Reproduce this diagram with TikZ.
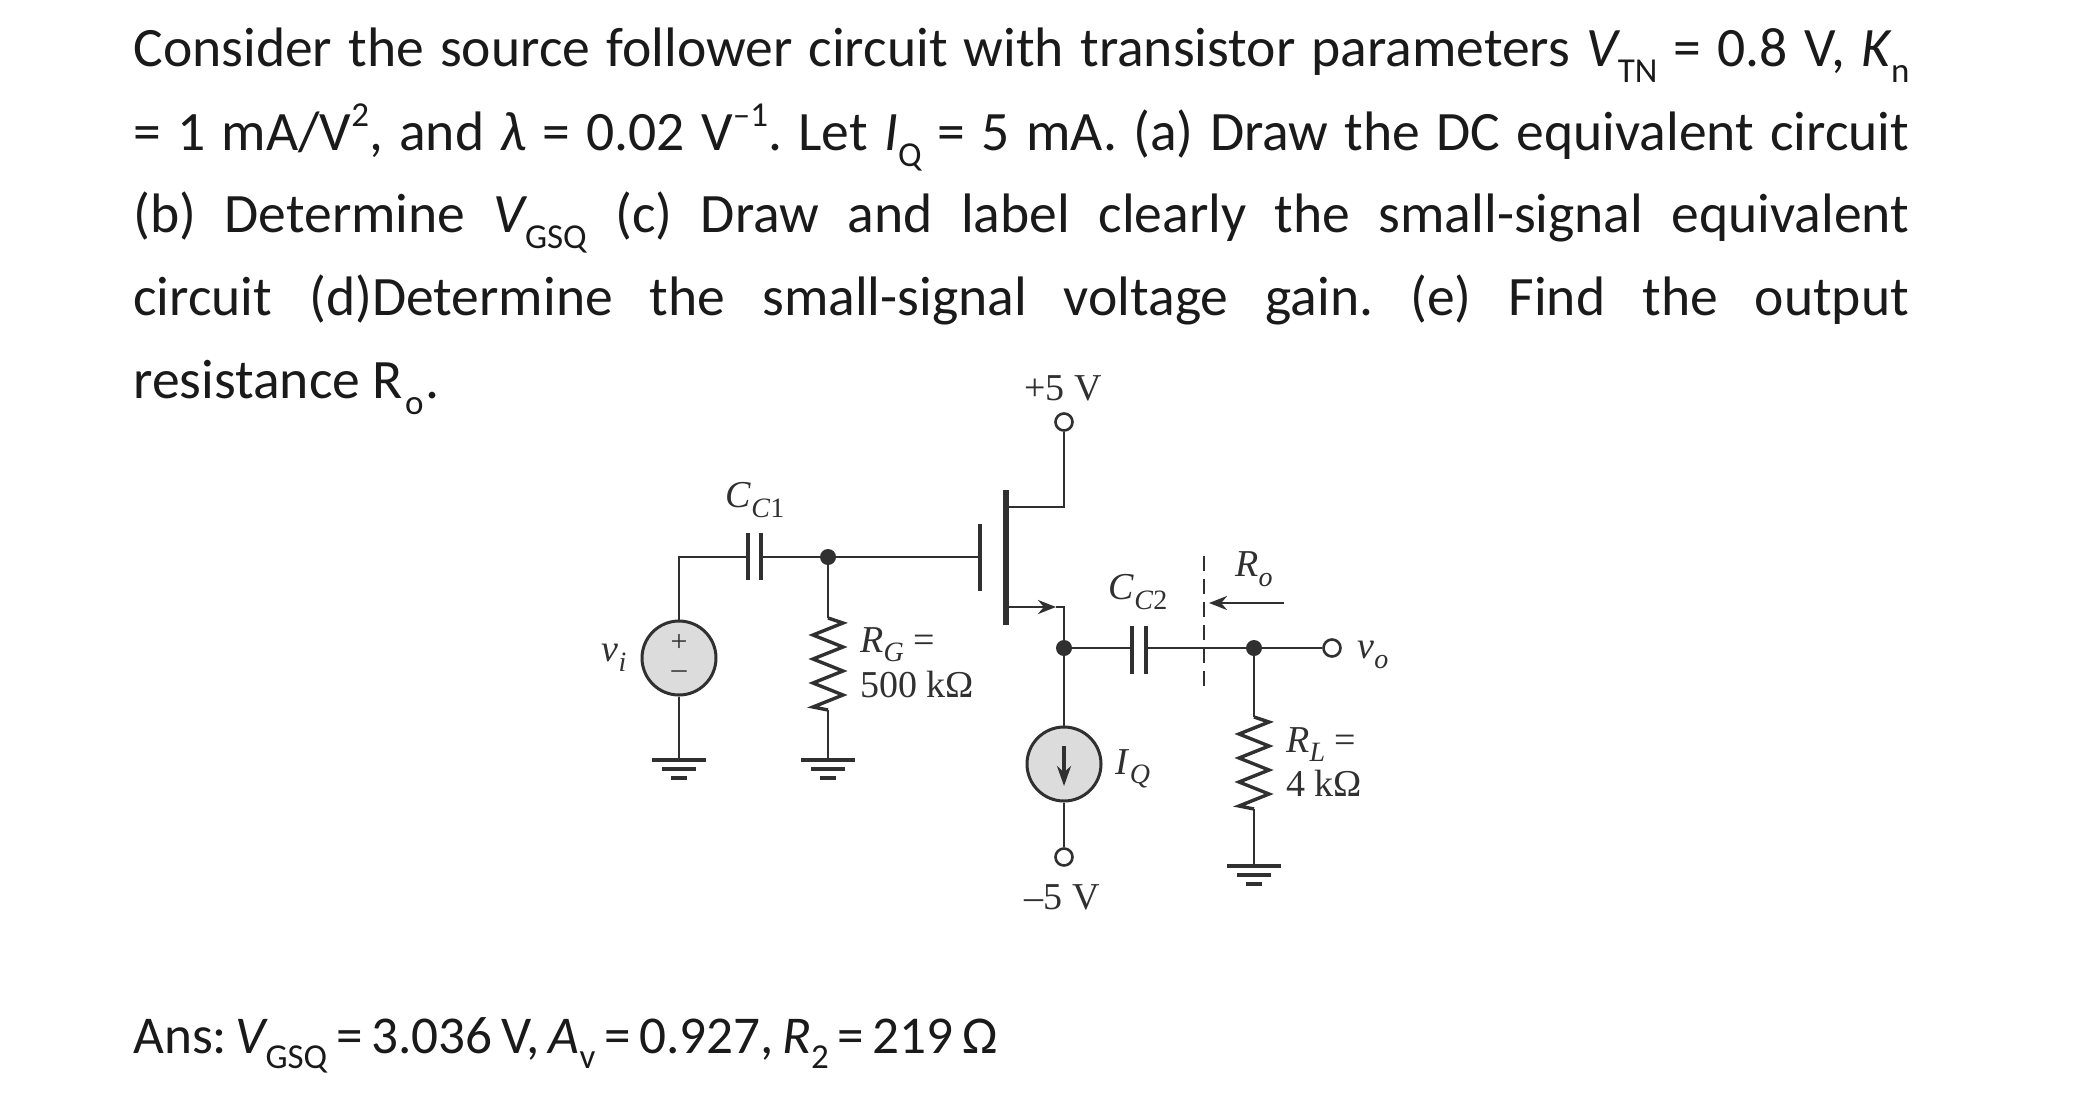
\documentclass[tikz,border=0pt]{standalone}
\usepackage{fontspec}
\setmainfont{Carlito}
\newfontfamily\cktfont{Liberation Serif}
\usetikzlibrary{arrows.meta}
\newcommand{\bodyfont}{\fontsize{27.8}{30}\selectfont\frenchspacing}
\newcommand{\lowtxt}[1]{\raisebox{-0.3em}{\fontsize{17.5}{18}\selectfont #1}}
\newcommand{\hightxt}[1]{\raisebox{0.42em}{\fontsize{17.5}{18}\selectfont #1}}
\newcommand{\cktsub}[1]{\raisebox{-0.25em}{\fontsize{14}{14}\selectfont #1}}
\newcommand{\fullline}[1]{\makebox[888pt][s]{#1}}
\newcommand{\tightline}[1]{{\fontsize{26.6}{30}\selectfont\frenchspacing\spaceskip=4.3pt\relax #1}}
\definecolor{ink}{HTML}{303030}
\definecolor{srcfill}{HTML}{DCDCDC}
\definecolor{textink}{HTML}{1A1A1A}
\tikzset{
  wire/.style={draw=ink,line width=1.45pt,line join=miter},
  plate/.style={draw=ink,line width=2.4pt},
  thickplate/.style={draw=ink,line width=3.1pt},
  capplate/.style={draw=ink,line width=2.2pt},
  para/.style={anchor=base west,inner sep=0pt,text=textink,font=\bodyfont},
  ckt/.style={inner sep=0pt,text=ink,font=\cktfont\fontsize{19}{21}\selectfont},
  cktleft/.style={ckt,anchor=base west},
  srcnode/.style={circle,draw=ink,line width=1.5pt,fill=srcfill,minimum size=37pt,inner sep=0pt},
  signmark/.style={inner sep=0pt,text=ink,font=\cktfont\fontsize{15}{15}\selectfont},
  term/.style={circle,draw=ink,line width=1.3pt,fill=white,minimum size=8.5pt,inner sep=0pt},
  junct/.style={circle,fill=ink,minimum size=8pt,inner sep=0pt},
  head/.style={-{Stealth[length=9pt,width=7pt]}},
  pics/gnd/.style={code={
    \draw[draw=ink,line width=1.9pt] (-27,0) -- (27,0);
    \draw[draw=ink,line width=1.9pt] (-17,9) -- (17,9);
    \draw[draw=ink,line width=1.9pt] (-8,18) -- (8,18);
  }},
  pics/zig/.style={code={
    \draw[wire,line width=1.7pt] (0,0) -- (15,5) -- (-15,17) -- (15,29) -- (-15,41) -- (15,53) -- (-15,65) -- (15,77) -- (-15,89) -- (0,92);
  }},
}
\begin{document}
\begin{tikzpicture}[x=0.5pt,y=-0.5pt]
\useasboundingbox (0,0) rectangle (2082,1104);
\fill[white] (0,0) rectangle (2082,1104);
% paragraph
\node[para] (l1) at (133,66) {\fullline{Consider the source follower circuit with transistor parameters \textit{V}\kern-1.5pt\lowtxt{TN} = 0.8 V, \textit{K}\kern-0.5pt\lowtxt{n}}};
\node[para] (l2) at (133,150) {\fullline{= 1 mA/V\hightxt{2}, and \textit{λ} = 0.02 V\hightxt{–1}. Let \textit{I}\lowtxt{Q} = 5 mA. (a) Draw the DC equivalent circuit}};
\node[para] (l3) at (133,232) {\fullline{(b) Determine \textit{V}\kern-1.5pt\lowtxt{GSQ} (c) Draw and label clearly the small-signal equivalent}};
\node[para] (l4) at (133,315) {\fullline{circuit (d)Determine the small-signal voltage gain. (e) Find the output}};
\node[para] (l5) at (133,398) {resistance R\kern1pt\lowtxt{o}\kern1pt.};
\node[para] (ans) at (133,1053) {\tightline{Ans: \textit{V}\kern-1.5pt\lowtxt{GSQ}\,= 3.036 V, \textit{A}\lowtxt{v} = 0.927, \textit{R}\lowtxt{2} = 219 Ω}};
% coordinates
\node[srcnode] (vi) at (679,658) {};
\node[signmark] (viplus) at (679,643) {+};
\node[signmark] (viminus) at (679,675) {–};
\coordinate (ctop) at (679,557);
\coordinate (c1a) at (748,557);
\coordinate (c1b) at (761,557);
\node[junct] (ng) at (828,557) {};
\coordinate (gate) at (980,557);
\coordinate (drain) at (1006,507);
\coordinate (dcorner) at (1064,507);
\node[term] (vdd) at (1064,422) {};
\coordinate (source) at (1006,607);
\coordinate (stip) at (1056,607);
\coordinate (scorner) at (1064,607);
\node[junct] (ns) at (1064,648) {};
\coordinate (c2a) at (1132,648);
\coordinate (c2b) at (1146,648);
\node[junct] (no) at (1254,648) {};
\node[term] (vout) at (1332,648) {};
\node[srcnode] (iq) at (1064,764) {};
\node[term] (vss) at (1064,857) {};
\coordinate (rgtop) at (828,618);
\coordinate (rgbot) at (828,710);
\coordinate (rltop) at (1254,717);
\coordinate (rlbot) at (1254,809);
\coordinate (g1) at (679,760);
\coordinate (g2) at (828,760);
\coordinate (g3) at (1254,866);
% wires
\draw[wire] (vi) -- (ctop) -- (c1a);
\draw[wire] (c1b) -- (ng);
\draw[wire] (ng) -- (gate);
\draw[wire] (ng) -- (rgtop);
\draw[wire] (rgbot) -- (g2);
\draw[wire] (vi) -- (g1);
\draw[wire] (drain) -- (dcorner) -- (vdd);
\draw[wire,head] (source) -- (stip);
\draw[wire] (stip) -- (scorner) -- (ns);
\draw[wire] (ns) -- (c2a);
\draw[wire] (c2b) -- (no);
\draw[wire] (no) -- (vout);
\draw[wire] (ns) -- (iq);
\draw[wire] (iq) -- (vss);
\draw[wire] (no) -- (rltop);
\draw[wire] (rlbot) -- (g3);
% capacitors
\draw[capplate] (748,533) -- (c1a) -- (748,580);
\draw[capplate] (761,533) -- (c1b) -- (761,580);
\draw[capplate] (1132,626) -- (c2a) -- (1132,674);
\draw[capplate] (1146,626) -- (c2b) -- (1146,674);
% transistor
\draw[plate] (980,524) -- (gate) -- (980,591);
\draw[thickplate] (1006,490) -- (drain) -- (source) -- (1006,625);
% resistors and grounds
\pic at (rgtop) {zig};
\pic at (rltop) {zig};
\pic at (g1) {gnd};
\pic at (g2) {gnd};
\pic at (g3) {gnd};
% current source arrow
\coordinate (ia) at (1064,746);
\coordinate (ib) at (1064,786);
\draw[wire,line width=1.8pt,-{Stealth[length=10pt,width=7pt]}] (ia) -- (ib);
% output resistance marker
\coordinate (dashtop) at (1204,556);
\coordinate (dashbot) at (1204,688);
\draw[draw=ink,line width=1.4pt,dash pattern=on 7.5pt off 4pt] (dashtop) -- (dashbot);
\coordinate (roa) at (1284,603);
\coordinate (rob) at (1209,603);
\draw[wire,head] (roa) -- (rob);
% labels
\node[ckt] (lvdd) at (1063,388) {+5 V};
\node[ckt] (lvss) at (1062,897) {–5 V};
\node[ckt] (lvi) at (614,658) {\textit{v}\cktsub{\textit{i}}};
\node[ckt] (lc1) at (755,500) {\textit{C}\cktsub{\textit{C}1}};
\node[ckt] (lc2) at (1138,592) {\textit{C}\cktsub{\textit{C}2}};
\node[ckt] (lro) at (1254,569) {\textit{R}\cktsub{\textit{o}}};
\node[ckt] (lvo) at (1373,655) {\textit{v}\cktsub{\textit{o}}};
\node[ckt] (liq) at (1133,769) {\textit{I}\cktsub{\textit{Q}}};
\node[cktleft] (lrg) at (860,652) {\textit{R}\cktsub{\textit{G}} =};
\node[cktleft] (lrgv) at (860,697) {500 kΩ};
\node[cktleft] (lrl) at (1286,752) {\textit{R}\cktsub{\textit{L}} =};
\node[cktleft] (lrlv) at (1286,796) {4 kΩ};
\end{tikzpicture}
\end{document}
